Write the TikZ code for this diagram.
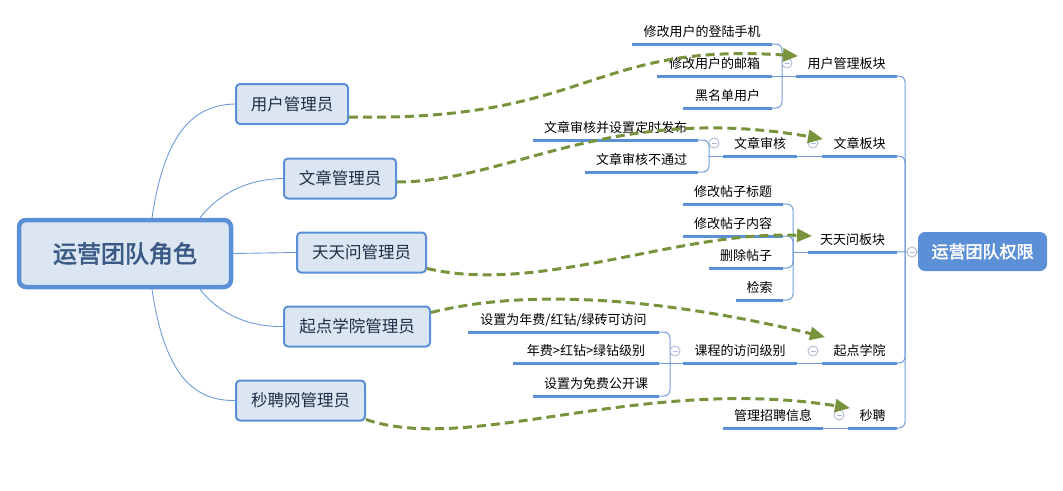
\documentclass[tikz,border=0pt]{standalone}
\usepackage{fontspec}
\setmainfont{Noto Sans CJK SC}[AutoFakeBold=2.5]
\usetikzlibrary{arrows.meta,calc}
\definecolor{ublue}{HTML}{5B8FD6}
\definecolor{cblue}{HTML}{6E9CDA}
\definecolor{nfill}{HTML}{DCE6F2}
\definecolor{ngreen}{HTML}{77933C}
\definecolor{cgray}{HTML}{AABCD8}
\definecolor{rtext}{HTML}{3A5A85}
\definecolor{ltext}{HTML}{1F2D45}
\begin{document}
\begin{tikzpicture}[x=1pt,y=-1pt,
  role/.style={draw=ublue, line width=2pt, fill=nfill, rounded corners=4pt, minimum height=40pt, inner sep=0pt, font=\fontsize{16.5pt}{19pt}\selectfont, text=ltext},
  rootnode/.style={draw=ublue, line width=4.5pt, fill=nfill, rounded corners=7pt, inner sep=0pt, font=\fontsize{24pt}{28pt}\selectfont\bfseries, text=rtext},
  permnode/.style={fill=ublue, rounded corners=7pt, inner sep=0pt, font=\fontsize{17pt}{20pt}\selectfont\bfseries, text=white},
  topic/.style={inner sep=0pt, minimum height=24pt, anchor=south, font=\fontsize{13pt}{15pt}\selectfont, text=black},
  uline/.style={draw=ublue, line width=3pt},
  branch/.style={draw=cblue, line width=0.9pt},
  conn/.style={draw=cblue, line width=1pt, rounded corners=6pt},
  rel/.style={draw=ngreen, line width=3pt, dash pattern=on 9pt off 5pt, -{Triangle[length=15pt,width=13pt]}},
  fold/.style={circle, draw=cgray, fill=white, line width=0.9pt, minimum size=10pt, inner sep=0pt,
    path picture={\draw[cgray, line width=0.9pt] ($(path picture bounding box.center)+(-2.5,0)$) -- ($(path picture bounding box.center)+(2.5,0)$);}},
]
\path[use as bounding box] (0,0) rectangle (1063,490);

% left side nodes
\node[rootnode, minimum width=212pt, minimum height=67pt] (root) at (125,253.5) {运营团队角色};
\node[role, minimum width=112pt] (n1) at (292,104) {用户管理员};
\node[role, minimum width=112pt] (n2) at (340,178.5) {文章管理员};
\node[role, minimum width=129pt] (n3) at (361.5,252.5) {天天问管理员};
\node[role, minimum width=146pt] (n4) at (357,326.5) {起点学院管理员};
\node[role, minimum width=129pt] (n5) at (300.5,400.5) {秒聘网管理员};

\draw[branch] ($(root.north)+(27,0)$) .. controls (165,130) and (195,105) .. (n1.west);
\draw[branch] ($(root.north)+(75,0)$) .. controls (220,192) and (250,179) .. (n2.west);
\draw[branch] (root.east) -- (n3.west);
\draw[branch] ($(root.south)+(75,0)$) .. controls (220,315) and (250,327) .. (n4.west);
\draw[branch] ($(root.south)+(27,0)$) .. controls (165,377) and (195,401) .. (n5.west);

% right side
\node[permnode, minimum width=129pt, minimum height=39pt] (perm) at (982.5,251.5) {运营团队权限};

\node[topic, minimum width=101pt] (c1) at (846.5,76) {用户管理板块};
\node[topic, minimum width=75pt] (c2) at (859.5,156) {文章板块};
\node[topic, minimum width=89pt] (c3) at (852.5,252) {天天问板块};
\node[topic, minimum width=75pt] (c4) at (859.5,363) {起点学院};
\node[topic, minimum width=49pt] (c5) at (872.5,428) {秒聘};

\node[topic, minimum width=140pt] (u1) at (702,44) {修改用户的登陆手机};
\node[topic, minimum width=115pt] (u2) at (714.5,76) {修改用户的邮箱};
\node[topic, minimum width=89pt] (u3) at (727.5,108) {黑名单用户};

\node[topic, minimum width=74pt] (a0) at (760,156) {文章审核};
\node[topic, minimum width=165pt] (a1) at (615.5,140) {文章审核并设置定时发布};
\node[topic, minimum width=113pt] (a2) at (641.5,172) {文章审核不通过};

\node[topic, minimum width=100pt] (t1) at (733,204) {修改帖子标题};
\node[topic, minimum width=100pt] (t2) at (733,236) {修改帖子内容};
\node[topic, minimum width=74pt] (t3) at (746,268) {删除帖子};
\node[topic, minimum width=47pt] (t4) at (759.5,300) {检索};

\node[topic, minimum width=114pt] (q0) at (740,363) {课程的访问级别};
\node[topic, minimum width=191pt] (q1) at (563.5,332) {设置为年费/红钻/绿砖可访问};
\node[topic, minimum width=146pt] (q2) at (586,363) {年费>红钻>绿钻级别};
\node[topic, minimum width=126pt] (q3) at (596,396) {设置为免费公开课};

\node[topic, minimum width=100pt] (m1) at (773,428) {管理招聘信息};

% connectors between topics
\coordinate (ju) at (782,76);
\draw[conn] (ju) |- (u1.south east);
\draw[conn] (ju) |- (u3.south east);
\draw[conn] (u2.south east) -- (c1.south west);

\coordinate (ja) at (709,156);
\draw[conn] (ja) |- (a1.south east);
\draw[conn] (ja) |- (a2.south east);
\draw[conn] (ja) -- (a0.south west);
\draw[conn] (a0.south east) -- (c2.south west);

\coordinate (jt) at (793,252);
\foreach \n in {t1,t2,t3,t4} \draw[conn] (jt) |- (\n.south east);
\draw[conn] (jt) -- (c3.south west);

\coordinate (jq) at (670,363);
\draw[conn] (jq) |- (q1.south east);
\draw[conn] (jq) |- (q3.south east);
\draw[conn] (q2.south east) -- (q0.south west);
\draw[conn] (q0.south east) -- (c4.south west);

\draw[conn] (m1.south east) -- (c5.south west);

\coordinate (jr) at (905,252);
\foreach \n in {c1,c2,c4,c5} \draw[conn] (jr) |- (\n.south east);
\draw[conn] (c3.south east) -- (perm.west);

% underlines
\foreach \n in {c1,c2,c3,c4,c5,u1,u2,u3,a0,a1,a2,t1,t2,t3,t4,q0,q1,q2,q3,m1}
  \draw[uline] (\n.south west) -- (\n.south east);

% fold markers
\node[fold] (f1) at (787,63) {};
\node[fold] (f2) at (813,143) {};
\node[fold] (f3) at (714,143) {};
\node[fold] (f4) at (813,351) {};
\node[fold] (f5) at (675,351) {};
\node[fold] (f6) at (839,415) {};
\node[fold] (f7) at (912,252) {};

% relationship arrows
\coordinate (e1) at (798,56);
\coordinate (e2) at (823,139);
\coordinate (e3) at (812,236);
\coordinate (e4) at (825,337);
\coordinate (e5) at (850,408);
\draw[rel] ($(n1.south east)+(0,-8)$) .. controls (590,122) and (590,42) .. (e1);
\draw[rel] ($(n2.east)+(0,3.5)$) .. controls (510,182) and (610,102) .. (e2);
\draw[rel] ($(n3.south east)+(0,-5)$) .. controls (540,295) and (680,230) .. (e3);
\draw[rel] ($(n4.north east)+(0,7)$) .. controls (520,290) and (650,295) .. (e4);
\draw[rel] ($(n5.south east)+(0,-2)$) .. controls (470,455) and (640,375) .. (e5);
\end{tikzpicture}
\end{document}
